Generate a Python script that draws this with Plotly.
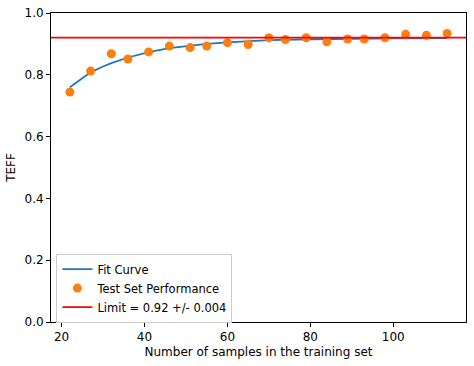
import plotly.graph_objects as go

# Test set performance
samples = [22, 27, 32, 36, 41, 46, 51, 55, 60, 65, 70, 74, 79, 84, 89, 93, 98, 103, 108, 113]
teff = [0.744, 0.812, 0.868, 0.851, 0.874, 0.893, 0.888, 0.893, 0.904, 0.898,
        0.920, 0.914, 0.920, 0.907, 0.916, 0.916, 0.920, 0.931, 0.928, 0.934]

# Fit curve
fit_x = [22, 25, 27, 30, 32, 36, 41, 46, 51, 55, 60, 65, 70, 80, 90, 100, 113]
fit_y = [0.760, 0.790, 0.808, 0.827, 0.838, 0.856, 0.873, 0.886, 0.895, 0.900,
         0.905, 0.909, 0.912, 0.915, 0.917, 0.918, 0.919]

limit = 0.92
limit_label = "Limit = 0.92 +/- 0.004"
x_range = [17.45, 117.55]
y_ticks = [0.0, 0.2, 0.4, 0.6, 0.8, 1.0]
x_ticks = [20, 40, 60, 80, 100]

FONT = "DejaVu Sans"
FS = 12

fig = go.Figure()
fig.add_trace(go.Scatter(x=fit_x, y=fit_y, mode="lines", name="Fit Curve",
                         line=dict(color="#1f77b4", width=1.8)))
fig.add_trace(go.Scatter(x=samples, y=teff, mode="markers", name="Test Set Performance",
                         marker=dict(color="#ff7f0e", size=9)))
fig.add_trace(go.Scatter(x=x_range, y=[limit, limit], mode="lines", name=limit_label,
                         line=dict(color="#ff0000", width=1.8)))

axis_common = dict(showline=True, linecolor="black", linewidth=1, mirror=True,
                   ticks="outside", ticklen=4, tickwidth=1, tickcolor="black",
                   showgrid=False, zeroline=False, automargin=False,
                   ticklabeloverflow="allow",
                   tickfont=dict(family=FONT, size=FS, color="black"))

fig.update_layout(
    width=474, height=366,
    margin=dict(l=51, r=8, t=13, b=44),
    paper_bgcolor="white", plot_bgcolor="white",
    font=dict(family=FONT, size=FS, color="black"),
    xaxis=dict(range=x_range, tickvals=x_ticks,
               title=dict(text="Number of samples in the training set",
                          font=dict(family=FONT, size=FS), standoff=4),
               **axis_common),
    yaxis=dict(range=[0, 1], tickvals=y_ticks, tickformat=".1f",
               title=dict(text="TEFF", font=dict(family=FONT, size=FS), standoff=6),
               **axis_common),
    legend=dict(x=0.013, y=-0.002, xanchor="left", yanchor="bottom",
                bgcolor="rgba(255,255,255,0.8)", bordercolor="#cccccc", borderwidth=1,
                font=dict(family=FONT, size=11.5), itemwidth=30, tracegroupgap=0),
    showlegend=True,
)

fig.write_html("out.html", config={"displayModeBar": False},
               post_script="document.body.style.margin='0';")
